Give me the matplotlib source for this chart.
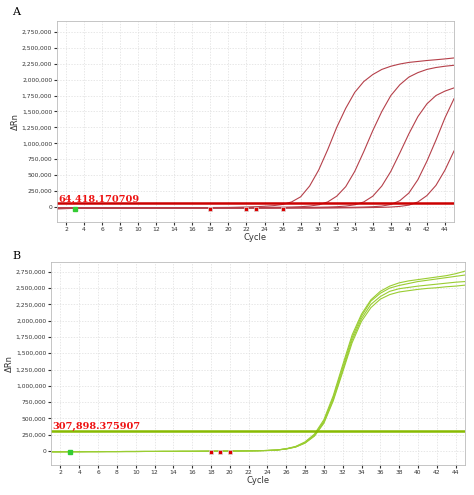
import matplotlib
matplotlib.use("Agg")
import matplotlib.pyplot as plt
import numpy as np

cycles = list(range(1, 46))
base_a = [-20,-20,-20,-20,-20,-20,-19,-18,-17,-16,-15,-14,-13,-12,-11,-10,-9,-8,-7,-6]
a1 = base_a + [-3,0,5,12,22,40,80,160,330,580,900,1250,1550,1800,1970,2080,2160,2210,2245,2270,2285,2300,2312,2325,2340]
a2 = [-10]*20 + [-8,-7,-6,-5,-4,-2,0,5,15,35,80,170,320,560,870,1200,1500,1750,1920,2040,2110,2160,2190,2210,2225]
a3 = [-30,-25,-20,-18,-16,-15,-14,-13,-12,-12,-11,-11,-11,-11,-10,-10,-10,-10,-10,-10] + [-10,-10,-9,-9,-8,-8,-7,-6,-5,-3,0,5,15,35,80,170,330,560,850,1150,1420,1620,1750,1820,1870]
a4 = [-15]*20 + [-15,-15,-14,-14,-13,-13,-12,-12,-11,-10,-9,-8,-6,-3,0,5,15,40,100,220,430,720,1050,1400,1700]
a5 = [-20]*20 + [-20,-20,-20,-19,-19,-18,-18,-17,-17,-16,-15,-14,-13,-12,-10,-8,-5,0,10,30,80,180,340,580,880]
curves_a = [a1, a2, a3, a4, a5]

base_b = [-12,-12,-11,-11,-10,-10,-9,-9,-8,-8,-7,-7,-6,-6,-5,-5,-4,-3,-2,-1]
b1 = base_b + [0,2,4,8,15,35,70,140,260,480,850,1320,1780,2100] + [2320,2450,2530,2580,2610,2630,2650,2670,2690,2720,2760]
b2 = base_b + [0,2,4,8,15,33,65,130,245,455,820,1280,1740,2070] + [2300,2420,2500,2540,2570,2600,2620,2640,2660,2680,2700]
b3 = base_b + [0,2,4,8,14,32,62,125,235,440,790,1240,1700,2030] + [2250,2370,2450,2490,2510,2530,2545,2560,2575,2590,2600]
b4 = base_b + [0,2,4,8,14,30,60,120,228,425,770,1210,1660,1990] + [2200,2330,2400,2440,2460,2480,2495,2505,2520,2530,2545]
curves_b = [b1, b2, b3, b4]

thr_a = 64418.170709
thr_b = 307898.375907
red_marks_a = [18, 22, 23, 26]
red_marks_b = [18, 19, 20]
yticks = [0, 250000, 500000, 750000, 1000000, 1250000, 1500000, 1750000, 2000000, 2250000, 2500000, 2750000]
xticks = list(range(2, 46, 2))

fig = plt.figure(figsize=(4.74, 4.95), dpi=100)
W, H = 474, 495
def ax_at(l, t, r, b):
    return fig.add_axes([l / W, 1 - b / H, (r - l) / W, (b - t) / H])

def style(ax, ylim):
    ax.set_xlim(1, 45)
    ax.set_ylim(*ylim)
    ax.set_xticks(xticks)
    ax.set_yticks(yticks)
    ax.set_yticklabels([f"{v:,}" for v in yticks])
    ax.tick_params(labelsize=4.3, length=2, pad=1.5, colors="#333333")
    ax.grid(True, color="#dddddd", linestyle=(0, (2, 2)), linewidth=0.5)
    ax.set_axisbelow(True)
    for s in ax.spines.values():
        s.set_color("#bbbbbb")
        s.set_linewidth(0.6)
    ax.set_xlabel("Cycle", fontsize=6, labelpad=1, color="#333333")
    ax.set_ylabel("ΔRn", fontsize=6, labelpad=1, color="#333333")

axA = ax_at(57, 21, 454, 222)
style(axA, (-235000, 2920000))
for c in curves_a:
    axA.plot(cycles, np.array(c) * 1000, color="#b5404a", lw=0.8)
axA.axhline(thr_a, color="#cc0000", lw=1.8)
axA.text(1.1, thr_a + 15000, "64,418.170709", color="#ee1111", fontsize=7,
         family="DejaVu Serif", fontweight="bold")
axA.plot([3], [-30000], marker="s", ms=3, color="#33cc33", mec="#33cc33")
axA.plot(red_marks_a, [-30000]*len(red_marks_a), ls="none", marker="s", ms=3,
         color="#dd0000", mec="#dddddd", mew=0.5)
fig.text(12 / W, 1 - 12 / H, "A", fontsize=8, family="DejaVu Serif", va="center")

axB = ax_at(51, 262, 465, 465)
style(axB, (-215000, 2900000))
for c in curves_b:
    axB.plot(cycles, np.array(c) * 1000, color="#9acd32", lw=0.8)
axB.axhline(thr_b, color="#88bb00", lw=1.8)
axB.text(1.1, thr_b + 25000, "307,898.375907", color="#ee1111", fontsize=7,
         family="DejaVu Serif", fontweight="bold")
axB.plot([3], [-20000], marker="s", ms=3, color="#33cc33", mec="#33cc33")
axB.plot(red_marks_b, [-20000]*len(red_marks_b), ls="none", marker="s", ms=3,
         color="#dd0000", mec="#dddddd", mew=0.5)
fig.text(12 / W, 1 - 256 / H, "B", fontsize=8, family="DejaVu Serif", va="center")

fig.savefig("out.png", dpi=100)
